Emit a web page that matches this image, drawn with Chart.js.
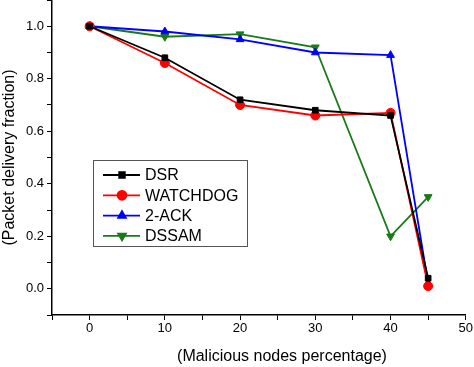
<!DOCTYPE html>
<html>
<head>
<meta charset="utf-8">
<script src="https://cdn.jsdelivr.net/npm/chart.js@4/dist/chart.umd.min.js"></script>
<style>
  html, body { margin: 0; padding: 0; background: #fff; }
  #wrap { width: 474px; height: 367px; }
</style>
</head>
<body>
<div id="wrap"><canvas id="c"></canvas></div>
<script>
// Anteil boeswilliger Knoten (x) gegen Packet delivery fraction (y)
const percentages = [0, 10, 20, 30, 40, 45];
const dsr      = [1.00, 0.88, 0.72, 0.68, 0.66, 0.04];
const watchdog = [1.00, 0.86, 0.70, 0.66, 0.67, 0.01];
const twoAck   = [1.00, 0.98, 0.95, 0.90, 0.89, 0.02];
const dssam    = [1.00, 0.96, 0.97, 0.92, 0.20, 0.35];
const xTitle = '(Malicious nodes percentage)';

const FONT = "'Liberation Sans', Arial, sans-serif";

function series(label, values, color, style, rotation) {
  return {
    label,
    data: percentages.map((x, i) => ({ x, y: values[i] })),
    borderColor: color,
    backgroundColor: color,
    borderWidth: 1.8,
    pointStyle: style,
    rotation: rotation || 0,
    pointRadius: style === 'rect' ? 4 : 4.5,
    pointBorderWidth: 1,
    tension: 0,
  };
}

// Legende im Kasten innerhalb der Zeichenflaeche (wie im Original),
// dazu der x-Achsentitel, der im Original nicht mittig sitzt.
const boxLegend = {
  id: 'boxLegend',
  afterDatasetsDraw(chart) {
    const ctx = chart.ctx;
    const left = 93, top = 160, w = 154, h = 86;
    ctx.save();
    ctx.fillStyle = '#fff';
    ctx.fillRect(left, top, w, h);
    ctx.strokeStyle = '#555';
    ctx.lineWidth = 1;
    ctx.strokeRect(left + 0.5, top + 0.5, w, h);
    ctx.font = '16px ' + FONT;
    ctx.textBaseline = 'middle';
    chart.data.datasets.forEach((ds, i) => {
      const y = top + 15 + i * 20.3;
      ctx.strokeStyle = ds.borderColor;
      ctx.lineWidth = 1.8;
      ctx.beginPath();
      ctx.moveTo(103, y);
      ctx.lineTo(140, y);
      ctx.stroke();
      ctx.fillStyle = ds.backgroundColor;
      Chart.helpers.drawPoint(ctx, {
        pointStyle: ds.pointStyle,
        rotation: ds.rotation,
        radius: ds.pointRadius,
        borderWidth: 1,
      }, 122, y);
      ctx.fillStyle = '#000';
      ctx.fillText(ds.label, 145, y + 1);
    });
    ctx.textAlign = 'center';
    ctx.fillText(xTitle, 282, 357);
    ctx.restore();
  },
};

new Chart(document.getElementById('c'), {
  type: 'line',
  data: {
    datasets: [
      series('DSR', dsr, '#000000', 'rect'),
      series('WATCHDOG', watchdog, '#ff0000', 'circle'),
      series('2-ACK', twoAck, '#0000ff', 'triangle'),
      series('DSSAM', dssam, '#1a7a1a', 'triangle', 180),
    ],
  },
  options: {
    responsive: true,
    maintainAspectRatio: false,
    animation: false,
    layout: { autoPadding: false, padding: { top: 0, right: 7, left: 0, bottom: 0 } },
    plugins: {
      legend: { display: false },
      tooltip: { enabled: false },
    },
    scales: {
      x: {
        type: 'linear',
        min: -5,
        max: 50,
        afterFit: (s) => { s.height = 52; },
        border: { color: '#000', width: 1.5 },
        grid: { drawOnChartArea: false, drawTicks: true, tickLength: 5, tickColor: '#000' },
        ticks: {
          stepSize: 5,
          padding: 1,
          color: '#000',
          font: { family: FONT, size: 13 },
          autoSkip: false,
          maxRotation: 0,
          callback: (v) => (v % 10 === 0 ? String(v) : ''),
        },
      },
      y: {
        min: -0.1,
        max: 1.1,
        afterFit: (s) => { s.width = 52; s.paddingTop = 0; s.paddingBottom = 0; },
        border: { color: '#000', width: 1.5 },
        grid: { drawOnChartArea: false, drawTicks: true, tickLength: 5, tickColor: '#000' },
        ticks: {
          stepSize: 0.1,
          padding: 3,
          color: '#000',
          font: { family: FONT, size: 13 },
          autoSkip: false,
          callback: (v) => {
            const n = Math.round(v * 10);
            return n >= 0 && n % 2 === 0 ? (n / 10).toFixed(1) : '';
          },
        },
        title: {
          display: true,
          text: '(Packet delivery fraction)',
          color: '#000',
          font: { family: FONT, size: 16 },
          padding: { top: 0, bottom: 0 },
        },
      },
    },
  },
  plugins: [boxLegend],
});
</script>
</body>
</html>
